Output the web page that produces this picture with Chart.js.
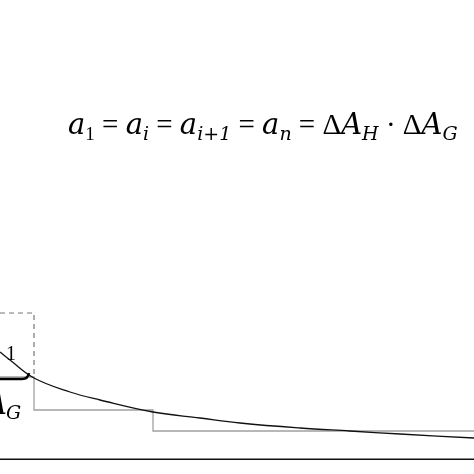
<!DOCTYPE html>
<html><head><meta charset="utf-8">
<script src="https://cdn.jsdelivr.net/npm/chart.js@4/dist/chart.umd.min.js"></script>
<style>html,body{margin:0;background:#fff}#c{width:474px;height:474px}</style>
</head><body><div id="c"><canvas id="chart"></canvas></div>
<script>
// curve: height above the axis
var curveX = [0, 10, 34, 70, 100, 153, 200, 240, 300, 350, 400, 474];
var curveY = [108, 100, 82, 68, 60, 48, 42, 37, 32, 29, 26, 22];
// gray staircase
var stepX = [0, 34, 34, 153, 153, 474];
var stepY = [83, 83, 50, 50, 29, 29];
// dashed box
var boxX = [0, 34, 34];
var boxY = [147, 147, 83];
var axisX = [0, 474];
var axisY = [0, 0];

function pts(xs, ys) { return xs.map(function (x, i) { return { x: x, y: ys[i] }; }); }

var labels = {
  id: 'labels',
  afterDraw: function (chart) {
    var c = chart.ctx, sy = chart.scales.y;
    c.save();
    c.fillStyle = '#000';
    c.textBaseline = 'alphabetic';
    function t(s, x, y, f) { c.font = f; c.fillText(s, x, y); return c.measureText(s).width; }
    var it = 'italic 29px "DejaVu Serif", "Liberation Serif", serif';
    var rm = '29px "Liberation Serif", serif';
    var sub = 'italic 19px "DejaVu Serif", "Liberation Serif", serif';
    var subr = '19px "Liberation Serif", serif';
    var x = 68, y = 134;
    var parts = [['a', it, 0], ['1', subr, 6], [' = ', rm, 0], ['a', it, 0], ['i', sub, 6], [' = ', rm, 0],
      ['a', it, 0], ['i+1', sub, 6], [' = ', rm, 0], ['a', it, 0], ['n', sub, 6], [' = ', rm, 0],
      ['Δ', rm, 0], ['A', it, 0], ['H', sub, 6], [' · ', rm, 0], ['Δ', rm, 0], ['A', it, 0], ['G', sub, 6]];
    parts.forEach(function (p) { x += t(p[0], x, y + p[2], p[1]); });
    t('1', 6, 360, '20px "Liberation Serif", serif');
    t('A', -14, 414, it);
    t('G', 6, 419, sub);
    // brace under label
    c.strokeStyle = '#000';
    c.lineWidth = 2.5;
    c.beginPath();
    c.moveTo(0, sy.getPixelForValue(81));
    c.lineTo(22, sy.getPixelForValue(81));
    c.quadraticCurveTo(28, sy.getPixelForValue(81), 29, sy.getPixelForValue(87));
    c.stroke();
    c.restore();
  }
};

new Chart(document.getElementById('chart'), {
  type: 'line',
  data: {
    datasets: [
      { data: pts(curveX, curveY), borderColor: '#111', borderWidth: 1.3, tension: 0.4, pointRadius: 0 },
      { data: pts(stepX, stepY), borderColor: '#a0a0a0', borderWidth: 1.3, tension: 0, pointRadius: 0 },
      { data: pts(boxX, boxY), borderColor: '#777', borderWidth: 1.2, borderDash: [5, 4], tension: 0, pointRadius: 0 },
      { data: pts(axisX, axisY), borderColor: '#111', borderWidth: 3, tension: 0, pointRadius: 0 }
    ]
  },
  options: {
    responsive: true, maintainAspectRatio: false, animation: false,
    layout: { padding: { left: 0, right: 0, top: 0, bottom: 14 } },
    plugins: { legend: { display: false }, tooltip: { enabled: false } },
    scales: {
      x: { type: 'linear', min: 0, max: 474, display: false },
      y: { min: 0, max: 460, display: false }
    }
  },
  plugins: [labels]
});
</script></body></html>
